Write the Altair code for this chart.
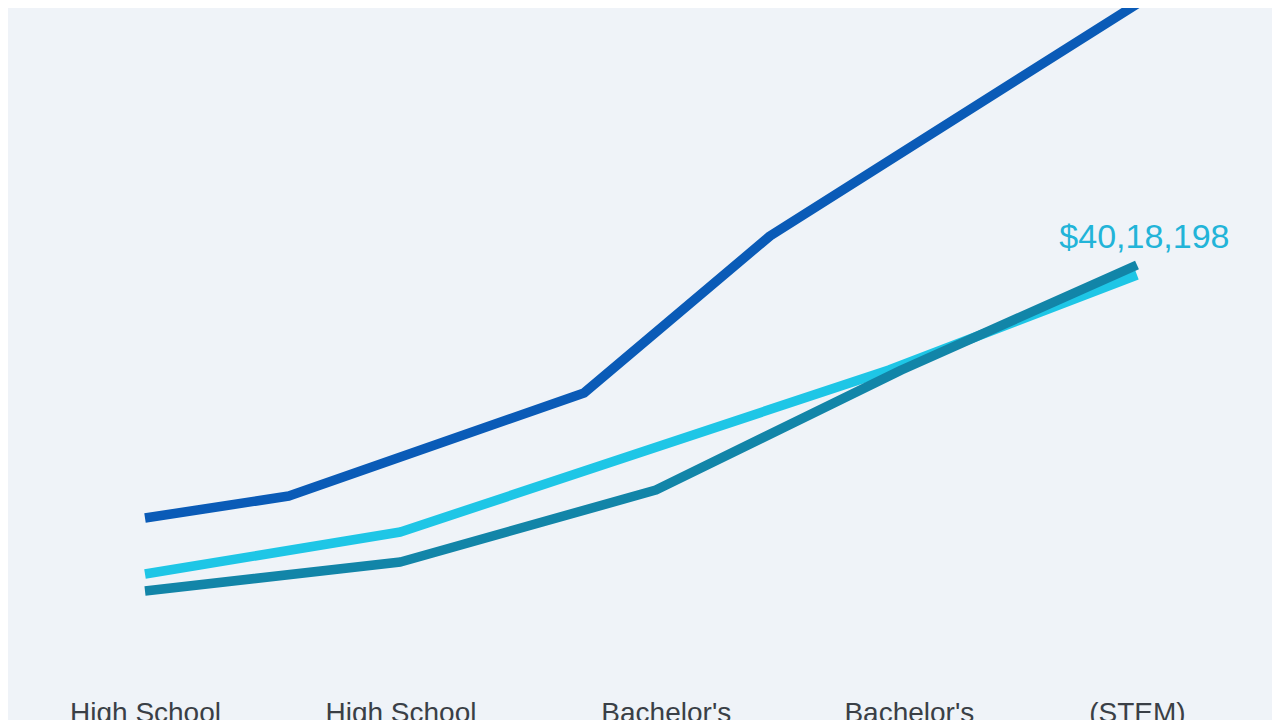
import altair as alt
import pandas as pd

# category labels along the x axis (positions in category units)
tick_pos = [0, 1.03, 2.1, 3.08, 4]
tick_labels = ["High School", "High School", "Bachelor's", "Bachelor's", "(STEM)"]

# series (x in category units, y in dollars)
dark_x = [0, 0.58, 1.77, 2.52, 4]
dark_y = [33000, 38500, 64250, 103500, 161500]
cyan_x = [0, 1.03, 3.0, 4]
cyan_y = [19000, 29500, 70000, 93750]
teal_x = [0, 1.03, 2.06, 3.05, 4]
teal_y = [14750, 22000, 40000, 70000, 96250]

series_names = ["Series A", "Series B", "Series C"]
colors = ["#0a5bb7", "#1ec6e6", "#1285a8"]

rows = []
for name, xs, ys in zip(series_names, [dark_x, cyan_x, teal_x], [dark_y, cyan_y, teal_y]):
    for i, (a, b) in enumerate(zip(xs, ys)):
        rows.append({"series": name, "x": a, "y": b, "order": i})
df = pd.DataFrame(rows)

annot_text = ["$40,18,198"]
annot_x = [4.03]
annot_y = [100500]
adf = pd.DataFrame({"x": annot_x, "y": annot_y, "t": annot_text})

xscale = alt.Scale(domain=[-0.5524, 4.5444], nice=False, zero=False)
yscale = alt.Scale(domain=[-7500, 160500], nice=False, zero=False)

label_expr = " : ".join(
    f"datum.value < {p + 0.3} ? \"{l}\"" for p, l in zip(tick_pos[:-1], tick_labels[:-1])
) + f" : \"{tick_labels[-1]}\""

xaxis = alt.Axis(
    values=tick_pos,
    labelExpr=label_expr,
    title=None, domain=False, ticks=False, grid=False,
    labelFont="Liberation Sans", labelFontSize=28, labelColor="#3a3f46",
    labelPadding=19, labelFlush=False, labelOverlap=False,
)

lines = alt.Chart(df).mark_line(strokeWidth=9.5, strokeCap="butt", strokeJoin="round").encode(
    x=alt.X("x:Q", scale=xscale, axis=xaxis),
    y=alt.Y("y:Q", scale=yscale, axis=None),
    color=alt.Color("series:N", scale=alt.Scale(domain=series_names, range=colors), legend=None),
    order="order:Q",
)

text = alt.Chart(adf).mark_text(
    font="Liberation Sans", fontSize=34, color="#22b4d8", align="center", baseline="alphabetic"
).encode(
    x=alt.X("x:Q", scale=xscale),
    y=alt.Y("y:Q", scale=yscale),
    text="t:N",
)

chart = alt.layer(lines, text).properties(
    width=1264, height=672,
    background="#eff3f8",
    padding={"left": 0, "top": 0, "right": 0, "bottom": 60},
    autosize=alt.AutoSizeParams(type="none"),
).configure_view(stroke=None)

chart.save("out.html", embed_options={"renderer": "svg", "actions": False})
